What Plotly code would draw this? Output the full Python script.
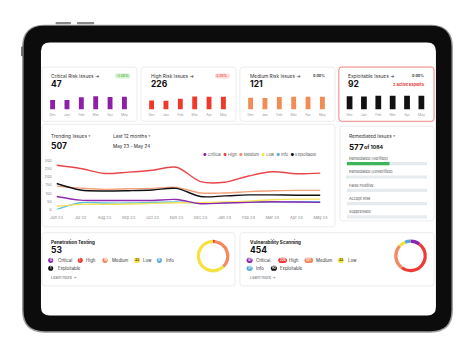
import plotly.graph_objects as go

W, H = 474, 355

# ---------------- data ----------------
bar_months = ["Dec", "Jan", "Feb", "Mar", "Apr", "May"]
critical_monthly = [35, 35, 45, 48, 46, 47]
high_monthly = [160, 155, 190, 228, 225, 226]
medium_monthly = [110, 108, 118, 121, 120, 121]
exploitable_monthly = [88, 87, 92, 92, 92, 92]

card_titles = ["Critical Risk Issues →", "High Risk Issues →", "Medium Risk Issues →", "Exploitable Issues →"]
card_totals = ["47", "226", "121", "92"]
card_changes = ["-3.08%", "3.26%", "0.00%", "0.00%"]

trend_months = ["Jun 23", "Jul 23", "Aug 23", "Sep 23", "Oct 23", "Nov 23",
                "Dec 23", "Jan 24", "Feb 24", "Mar 24", "Apr 24", "May 24"]
trend_critical = [80, 58, 56, 56, 56, 62, 36, 40, 44, 48, 46, 44]
trend_high = [272, 252, 222, 230, 242, 260, 172, 168, 206, 232, 220, 224]
trend_medium = [144, 132, 124, 128, 130, 136, 102, 102, 110, 116, 118, 118]
trend_low = [20, 32, 32, 34, 38, 42, 42, 46, 52, 60, 64, 64]
trend_info = [0, 42, 40, 40, 44, 46, 40, 42, 46, 46, 48, 48]
trend_exploitable = [160, 120, 114, 116, 120, 130, 80, 84, 90, 90, 88, 88]
y_ticks = [0, 50, 100, 150, 200, 250, 300]

rem_labels = ["Remediated (Verified)", "Remediated (Unverified)", "False Positive", "Accept Risk", "Suppressed"]
rem_values = [577, 6, 0, 0, 0]
rem_total = 1084

severity = ["Critical", "High", "Medium", "Low", "Info"]
pt_counts = [0, 1, 19, 33, 0]
pt_exploitable = 1
vs_counts = [47, 226, 121, 33, 27]
vs_exploitable = 92

# ---------------- style ----------------
FONT = "Inter, Roboto, DejaVu Sans, sans-serif"
C_CRIT, C_HIGH, C_MED, C_LOW, C_INFO, C_EXP = "#8e24aa", "#ef3b36", "#f4895f", "#f5e23f", "#56a8e0", "#111111"
sev_colors = [C_CRIT, C_HIGH, C_MED, C_LOW, C_INFO]


def X(x):
    return x / W


def Y(y):
    return 1 - y / H


def rrect(x0, y0, x1, y1, r, fill, line="rgba(0,0,0,0)", lw=0):
    p = (f"M{X(x0+r)},{Y(y0)} L{X(x1-r)},{Y(y0)} Q{X(x1)},{Y(y0)} {X(x1)},{Y(y0+r)} "
         f"L{X(x1)},{Y(y1-r)} Q{X(x1)},{Y(y1)} {X(x1-r)},{Y(y1)} L{X(x0+r)},{Y(y1)} "
         f"Q{X(x0)},{Y(y1)} {X(x0)},{Y(y1-r)} L{X(x0)},{Y(y0+r)} Q{X(x0)},{Y(y0)} {X(x0+r)},{Y(y0)} Z")
    return dict(type="path", path=p, xref="paper", yref="paper", fillcolor=fill,
                line=dict(color=line, width=lw), layer="below")


shapes = []
ann = []


def txt(x, y, s, size=4.8, color="#333", anchor="left", yanchor="middle"):
    ann.append(dict(x=X(x), y=Y(y), xref="paper", yref="paper", text=s, showarrow=False,
                    xanchor=anchor, yanchor=yanchor, font=dict(family=FONT, size=size, color=color)))


# tablet frame
shapes.append(rrect(15.5, 22, 459.5, 334.5, 23, "#9a9a9a"))
shapes.append(rrect(17, 23, 458, 333, 21.5, "#0c0c0c"))
shapes.append(rrect(35, 40, 442, 317, 9, "#ffffff"))
shapes.append(rrect(50, 19.3, 66, 21.5, 1, "#8a8a8a"))
shapes.append(rrect(72, 19.3, 90, 21.5, 1, "#8a8a8a"))
shapes.append(rrect(14.5, 44, 17, 54, 1, "#6a6a6a"))

# cards
BORDER = "#e7e7e7"
top_cards = [(36, 134), (138, 236), (240, 338), (342, 440)]
for i, (a, b) in enumerate(top_cards):
    if i == 3:
        shapes.append(rrect(a - 1, 64, b + 1, 121, 3.5, "#fbe9e9"))
        shapes.append(rrect(a, 65, b, 120, 3, "#ffffff", "#ee8080", 0.9))
    else:
        shapes.append(rrect(a, 65, b, 120, 3, "#ffffff", BORDER, 0.8))
shapes.append(rrect(36, 123, 338, 227, 3, "#ffffff", BORDER, 0.8))
shapes.append(rrect(343, 125, 440, 221, 3, "#ffffff", BORDER, 0.8))
shapes.append(rrect(36, 233, 235, 287, 3, "#ffffff", BORDER, 0.8))
shapes.append(rrect(240, 233, 440, 287, 3, "#ffffff", BORDER, 0.8))

# top card texts
title_x = [43, 146, 248, 349]
for i in range(4):
    txt(title_x[i], 74, card_titles[i], 4.8, "#333")
    txt(title_x[i], 82.5, f"<b>{card_totals[i]}</b>", 8.5, "#111")
# change badges
shapes.append(rrect(111.5, 71.5, 127, 76.5, 1.5, "#d6f5d0"))
txt(119.2, 74, card_changes[0], 3.6, "#3a9a3a", "center")
shapes.append(rrect(214.5, 71.5, 229.5, 76.5, 1.5, "#fddcdc"))
txt(222, 74, card_changes[1], 3.6, "#e53935", "center")
txt(329.5, 74, f"<b>{card_changes[2]}</b>", 3.6, "#333", "right")
txt(432, 74, f"<b>{card_changes[3]}</b>", 3.6, "#333", "right")
txt(432, 83, "<b>2 Active Exploits</b>", 3.8, "#e53935", "right")

fig = go.Figure()

# mini bar charts
mini = [
    (critical_monthly, "#8e1fa8", 65, 0.34),
    (high_monthly, "#f0392b", 313, 0.34),
    (medium_monthly, "#f28c55", 168, 0.34),
    (exploitable_monthly, "#111111", 118, 0.40),
]
first_centers = [47, 149, 251, 353]
layout_axes = {}
for i, (vals, col, rng, wd) in enumerate(mini):
    n = "" if i == 0 else str(i + 1)
    fig.add_trace(go.Bar(x=bar_months, y=vals, marker=dict(color=col, line=dict(width=0)), width=wd,
                         xaxis="x" + n, yaxis="y" + n, showlegend=False, hoverinfo="skip"))
    c0 = first_centers[i]
    c1 = c0 + 74
    sp = (c1 - c0) / 5
    layout_axes["xaxis" + n] = dict(domain=[X(c0 - sp / 2), X(c1 + sp / 2)], range=[-0.5, 5.5],
                                    anchor="y" + n, showgrid=False, zeroline=False, showline=False,
                                    ticks="outside", ticklen=1.5, tickcolor="rgba(0,0,0,0)",
                                    tickfont=dict(family=FONT, size=3.4, color="#9a9a9a"), fixedrange=True)
    layout_axes["yaxis" + n] = dict(domain=[Y(108), Y(90)], range=[0, rng], anchor="x" + n,
                                    visible=False, fixedrange=True)

# trending line chart
lines = [
    (trend_info, "#5cc0e0"),
    (trend_low, "#f5e45a"),
    (trend_critical, "#8e2bb0"),
    (trend_medium, "#f2a07b"),
    (trend_exploitable, "#111111"),
    (trend_high, "#e8464a"),
]
for vals, col in lines:
    fig.add_trace(go.Scatter(x=trend_months, y=vals, mode="lines",
                             line=dict(color=col, width=1.4, shape="spline", smoothing=0.9),
                             xaxis="x5", yaxis="y5", showlegend=False, hoverinfo="skip"))
layout_axes["xaxis5"] = dict(domain=[X(51), X(323)], range=[0, 11], anchor="y5", type="category",
                             showgrid=False, zeroline=False, showline=False, ticks="outside", ticklen=4,
                             tickcolor="rgba(0,0,0,0)", tickfont=dict(family=FONT, size=4, color="#8a8a8a"))
layout_axes["yaxis5"] = dict(domain=[Y(209.5), Y(160)], range=[0, 300], anchor="x5", tickvals=y_ticks,
                             showgrid=False, zeroline=False, showline=False, ticks="outside", ticklen=3,
                             tickcolor="rgba(0,0,0,0)", tickfont=dict(family=FONT, size=3.8, color="#8a8a8a"))

txt(43, 135, "Trending Issues ˅", 4.8, "#333")
txt(43, 145.5, "<b>507</b>", 8.5, "#111")
txt(107, 135, "Last 12 months ˅", 4.8, "#333")
txt(107, 146, "May 23 - May 24", 4.6, "#222")
leg_names = ["Critical", "High", "Medium", "Low", "Info", "Exploitable"]
leg_cols = [C_CRIT, C_HIGH, C_MED, C_LOW, C_INFO, C_EXP]
leg = "  ".join(f'<span style="color:{c}">●</span> {n}' for n, c in zip(leg_names, leg_cols))
txt(321, 154, leg, 4.0, "#555", "right")

# remediated bars
fig.add_trace(go.Bar(y=rem_labels, x=[rem_total] * len(rem_labels), orientation="h", width=0.24,
                     marker=dict(color="#e6ebf0", line=dict(width=0)), xaxis="x6", yaxis="y6",
                     showlegend=False, hoverinfo="skip"))
fig.add_trace(go.Bar(y=rem_labels, x=rem_values, orientation="h", width=0.24,
                     marker=dict(color="#3cb55a", line=dict(width=0)), xaxis="x6", yaxis="y6",
                     showlegend=False, hoverinfo="skip"))
layout_axes["xaxis6"] = dict(domain=[X(350), X(433)], range=[0, rem_total], anchor="y6", visible=False)
layout_axes["yaxis6"] = dict(domain=[Y(223.75), Y(156.25)], range=[4.5, -0.5], anchor="x6",
                             type="category", visible=False)
txt(350, 135, "Remediated Issues ˅", 4.8, "#333")
txt(350, 145.7, "<b>577</b>", 8.0, "#111")
txt(366, 146.3, f"<b>of {rem_total}</b>", 5.2, "#111")
for i, lab in enumerate(rem_labels):
    txt(350, 158 + i * 13.4, lab, 3.8, "#555")

# bottom cards
def badge_row(items, y):
    for cx, w, col, num, lx, lab, tcol in items:
        shapes.append(rrect(cx - w / 2, y - 2.6, cx + w / 2, y + 2.6, 2.6, col))
        txt(cx, y, f"<b>{num}</b>", 3.0, tcol, "center")
        txt(lx, y, lab, 4.3, "#333")


pt_x = [45, 75.5, 101, 134, 157]
pt_w = [5.2, 5.2, 5.6, 6.2, 5.2]
pt_lx = [50.5, 79.5, 106, 138.5, 162]
vs_x = [250, 284, 311, 344]
vs_w = [6.2, 9, 9, 6.2]
vs_lx = [255, 289, 316.5, 349]
tc = ["#fff", "#fff", "#fff", "#333", "#fff"]

badge_row([(pt_x[i], pt_w[i], sev_colors[i], pt_counts[i], pt_lx[i], severity[i], tc[i]) for i in range(5)], 261)
badge_row([(45, 5.2, C_EXP, pt_exploitable, 50.5, "Exploitable", "#fff")], 269)
badge_row([(vs_x[i], vs_w[i], sev_colors[i], vs_counts[i], vs_lx[i], severity[i], tc[i]) for i in range(4)], 261)
badge_row([(250, 6.2, C_INFO, vs_counts[4], 255, severity[4], "#fff"),
           (275, 6.2, C_EXP, vs_exploitable, 279.5, "Exploitable", "#fff")], 269)

txt(43, 242, "<b>Penetration Testing</b>", 4.6, "#222")
txt(43, 250.5, f"<b>{sum(pt_counts)}</b>", 8.5, "#111")
txt(43, 278, "Learn more →", 3.9, "#666")
txt(248, 242, "<b>Vulnerability Scanning</b>", 4.6, "#222")
txt(248, 250.5, f"<b>{sum(vs_counts)}</b>", 8.5, "#111")
txt(248, 278, "Learn more →", 3.9, "#666")

for vals, (cx, cy) in [(pt_counts, (212.3, 256.7)), (vs_counts, (415.8, 256.5))]:
    r = 16.8
    fig.add_trace(go.Pie(values=vals, labels=severity, hole=0.8, sort=False, direction="clockwise",
                         rotation=0, textinfo="none", hoverinfo="skip", showlegend=False,
                         marker=dict(colors=sev_colors, line=dict(width=0)),
                         domain=dict(x=[X(cx - r), X(cx + r)], y=[Y(cy + r), Y(cy - r)])))

fig.update_layout(
    width=W, height=H, autosize=False,
    margin=dict(l=0, r=0, t=0, b=0),
    paper_bgcolor="#ffffff", plot_bgcolor="rgba(0,0,0,0)",
    barmode="overlay", bargap=0.6,
    font=dict(family=FONT),
    shapes=shapes, annotations=ann,
    **layout_axes,
)
fig.write_html("out.html", config={"displayModeBar": False, "staticPlot": True},
               post_script="document.body.style.margin='0';document.body.style.overflow='hidden';")
